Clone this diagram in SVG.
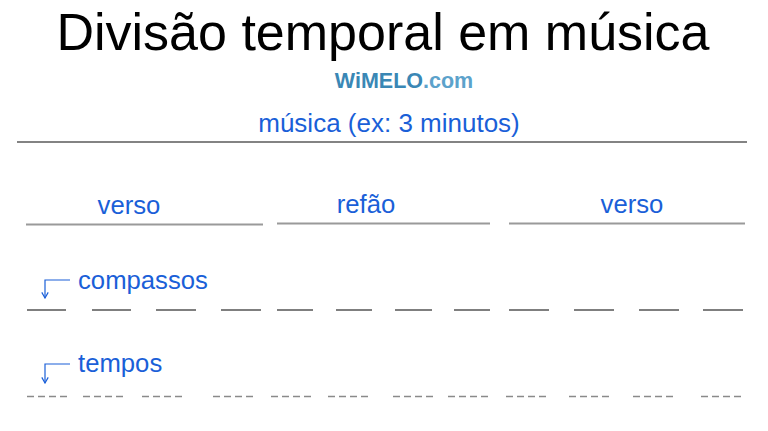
<svg xmlns="http://www.w3.org/2000/svg" width="768" height="431" viewBox="0 0 768 431">
<style>
text{font-family:"Liberation Sans",Arial,sans-serif}
.lbl{fill:#1a5fd8;font-size:25.7px}
.dark{stroke:#5a5a5a;stroke-width:1.5}
.light{stroke:#9a9a9a;stroke-width:2}
.bar{stroke:#555;stroke-width:1.5}
.beat{stroke:#8a8a8a;stroke-width:1.5;stroke-dasharray:7 4}
.arr{fill:none;stroke:#1a5fd8;stroke-width:1.2}
</style>
<defs>
<marker id="ah" viewBox="0 0 10 10" refX="9" refY="5" markerWidth="8" markerHeight="8" markerUnits="userSpaceOnUse" orient="auto">
<path d="M2 1 L9 5 L2 9" fill="none" stroke="#1a5fd8" stroke-width="1.5"/>
</marker>
</defs>
<rect width="768" height="431" fill="#fff"/>
<g id="title">
<text x="383" y="50" text-anchor="middle" font-size="52" fill="#000">Divisão temporal em música</text>
<text x="404" y="88" text-anchor="middle" font-size="21.5" font-weight="bold"><tspan fill="#3a87b5">WiMELO</tspan><tspan fill="#5ca2cb">.com</tspan></text>
</g>
<g id="musica">
<text class="lbl" x="389" y="132" text-anchor="middle" style="font-size:26px">música (ex: 3 minutos)</text>
<line class="dark" x1="17" y1="142" x2="747" y2="142"/>
</g>
<g id="verso1">
<text class="lbl" x="129" y="214" text-anchor="middle">verso</text>
<line class="light" x1="26" y1="224.5" x2="263" y2="224.5"/>
</g>
<g id="refao">
<text class="lbl" x="366" y="213" text-anchor="middle">refão</text>
<line class="light" x1="277" y1="223.5" x2="490" y2="223.5"/>
</g>
<g id="verso2">
<text class="lbl" x="632" y="213" text-anchor="middle">verso</text>
<line class="light" x1="509" y1="223.5" x2="745" y2="223.5"/>
</g>
<g id="compassos">
<text class="lbl" x="78" y="289">compassos</text>
<g class="bar">
<line x1="27" y1="310" x2="66" y2="310"/>
<line x1="92" y1="310" x2="131" y2="310"/>
<line x1="156" y1="310" x2="196" y2="310"/>
<line x1="221" y1="310" x2="261" y2="310"/>
<line x1="277" y1="310" x2="313" y2="310"/>
<line x1="336" y1="310" x2="372" y2="310"/>
<line x1="395" y1="310" x2="432" y2="310"/>
<line x1="454" y1="310" x2="490" y2="310"/>
<line x1="509" y1="310" x2="549" y2="310"/>
<line x1="574" y1="310" x2="614" y2="310"/>
<line x1="639" y1="310" x2="679" y2="310"/>
<line x1="703" y1="310" x2="743" y2="310"/>
</g>
</g>
<g id="tempos">
<text class="lbl" x="78" y="372">tempos</text>
<g class="beat">
<line x1="27" y1="396.5" x2="67" y2="396.5"/>
<line x1="83" y1="396.5" x2="124" y2="396.5"/>
<line x1="142" y1="396.5" x2="182" y2="396.5"/>
<line x1="213" y1="396.5" x2="253" y2="396.5"/>
<line x1="271" y1="396.5" x2="312" y2="396.5"/>
<line x1="328" y1="396.5" x2="368" y2="396.5"/>
<line x1="393" y1="396.5" x2="433" y2="396.5"/>
<line x1="448" y1="396.5" x2="488" y2="396.5"/>
<line x1="506" y1="396.5" x2="546" y2="396.5"/>
<line x1="569" y1="396.5" x2="609" y2="396.5"/>
<line x1="633" y1="396.5" x2="673" y2="396.5"/>
<line x1="701" y1="396.5" x2="741" y2="396.5"/>
</g>
</g>
<g id="connectors">
<path class="arr" d="M70 280 H45 V298" marker-end="url(#ah)"/>
<path class="arr" d="M70 364 H45 V383" marker-end="url(#ah)"/>
</g>
</svg>
